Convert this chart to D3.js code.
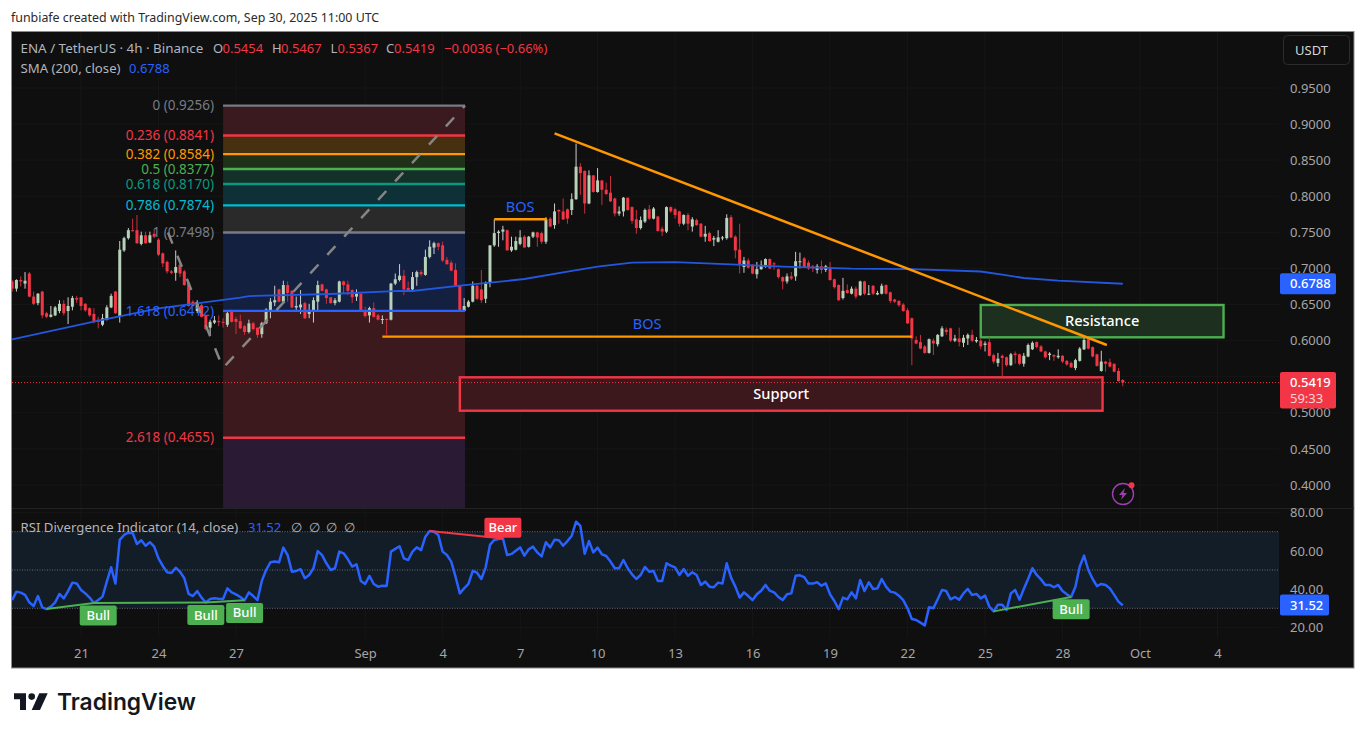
<!DOCTYPE html>
<html>
<head>
<meta charset="utf-8">
<script src="https://cdn.jsdelivr.net/npm/d3@7"></script>
<style>
    body { margin: 0; background: #fff; }
    text { font-family: "Noto Sans", sans-serif; }
    .domain { display: none; }
</style>
</head>
<body>
<script>
var w = 1366, h = 737;

// 4h candles, bar 0 is Aug 21 00:00
var firstBar = -16;
var candleOpen = [
    .682,.672,.684,.679,.693,.661,.652,.668,.638,.633,.635,.641,.651,.641,.647,.659,.660,.651,.645,.637,
    .629,.622,.629,.646,.668,.633,.725,.742,.753,.753,.734,.746,.736,.748,.740,.721,.709,.696,.694,.705,
    .696,.680,.654,.641,.649,.635,.618,.625,.627,.626,.622,
    .640,.630,.627,.620,.612,.624,.618,.609,.624,.641,.653,.671,.654,.677,.669,.646,.646,.652,.637,.641,
    .654,.678,.671,.660,.652,.654,.682,.678,.670,.661,.665,.641,.635,.645,.635,.629,.630,.629,.679,.684,
    .690,.673,.671,.688,.695,.691,.716,.729,.735,.732,.712,.708,.698,.676,.641,.647,
    .654,.676,.671,.658,.680,.732,.749,.751,.753,
    .725,.726,.734,.744,.730,.744,.750,.749,.737,.769,.760,.781,.779,.782,.781,.796,.841,.835,.790,.829,
    .806,.822,.809,.805,.797,.776,.779,.798,.785,.768,.756,.765,.782,.769,.772,.755,.751,.785,.782,.779,
    .762,.774,.758,.767,.762,.744,.749,.740,.737,.742,.742,.771,.744,.726,.702,.711,.705,.692,.699,.702,
    .713,.707,.699,.688,.682,.689,.689,.709,.714,.708,.703,.698,.703,.698,.702,.685,.677,.659,.670,.665,
    .672,.663,.682,.664,.676,.664,.665,.677,.667,.657,.655,.650,.642,
    .631,.601,.598,.592,.583,.600,.595,
    .606,.615,.617,.600,.603,.597,.603,.608,.599,.600,.594,.598,.580,.569,.579,.577,.566,.582,.581,.568,
    .578,.588,.598,.592,.585,.580,.580,.577,.579,.572,.569,.562,.572,.588,.602,.591,.581,.558,.571,.570,
    .568,.558,.5454
];
var candleHigh = [
    .684,.685,.689,.695,.695,.668,.666,.669,.640,.648,.648,.656,.656,.660,.662,.662,.660,.652,.646,.645,
    .633,.637,.649,.665,.669,.738,.744,.756,.769,.774,.751,.751,.751,.754,.742,.722,.711,.698,.725,.707,
    .698,.682,.656,.656,.652,.636,.629,.634,.635,.631,.640,
    .643,.633,.636,.622,.629,.626,.618,.626,.645,.659,.676,.672,.683,.682,.670,.661,.670,.654,.651,.660,
    .683,.679,.672,.660,.659,.683,.683,.683,.671,.671,.665,.647,.647,.653,.637,.635,.631,.680,.693,.706,
    .698,.682,.695,.697,.698,.726,.739,.737,.736,.737,.716,.711,.707,.677,.659,.656,
    .682,.677,.698,.682,.732,.768,.753,.759,.754,
    .744,.744,.753,.746,.745,.751,.751,.751,.771,.771,.790,.782,.797,.783,.804,.873,.846,.836,.836,.829,
    .839,.822,.819,.828,.798,.786,.799,.798,.786,.781,.772,.783,.788,.785,.773,.758,.786,.786,.784,.780,
    .775,.777,.771,.769,.763,.759,.751,.745,.753,.745,.775,.774,.746,.762,.716,.714,.706,.709,.711,.714,
    .714,.709,.700,.689,.693,.695,.723,.722,.716,.711,.705,.706,.711,.705,.709,.686,.678,.687,.678,.675,
    .675,.683,.683,.677,.677,.669,.679,.678,.668,.658,.656,.652,.645,
    .632,.606,.608,.594,.603,.603,.609,
    .620,.618,.618,.608,.618,.608,.610,.615,.605,.603,.599,.605,.582,.583,.581,.578,.583,.585,.582,.583,
    .596,.599,.599,.594,.586,.584,.581,.588,.580,.573,.571,.575,.591,.604,.603,.592,.582,.586,.572,.575,
    .568,.562,.5467
];
var candleLow = [
    .668,.668,.675,.672,.660,.649,.649,.631,.631,.632,.634,.638,.635,.623,.642,.652,.642,.640,.633,.624,
    .617,.620,.628,.645,.637,.625,.723,.740,.751,.734,.732,.734,.735,.742,.717,.702,.693,.692,.683,.688,
    .676,.647,.647,.638,.632,.614,.608,.623,.620,.618,.619,
    .625,.609,.616,.608,.610,.614,.604,.604,.623,.631,.648,.653,.653,.654,.645,.641,.637,.630,.631,.625,
    .642,.668,.651,.651,.649,.653,.665,.663,.652,.655,.640,.632,.625,.632,.628,.623,.608,.628,.677,.682,
    .663,.669,.670,.676,.689,.690,.714,.720,.725,.709,.705,.696,.675,.640,.640,.646,
    .653,.656,.652,.652,.674,.730,.730,.739,.725,
    .723,.725,.732,.729,.729,.742,.730,.734,.734,.757,.755,.762,.767,.762,.774,.795,.802,.776,.789,.805,
    .805,.788,.802,.792,.772,.773,.772,.780,.762,.748,.754,.763,.767,.768,.751,.745,.749,.777,.769,.758,
    .760,.753,.751,.759,.743,.737,.737,.731,.736,.739,.740,.742,.714,.693,.694,.700,.692,.686,.698,.701,
    .699,.698,.686,.671,.679,.684,.683,.700,.701,.698,.695,.693,.693,.695,.683,.672,.655,.657,.665,.664,
    .658,.662,.663,.663,.663,.663,.664,.664,.652,.652,.647,.640,.623,
    .566,.595,.588,.582,.582,.580,.592,
    .605,.608,.598,.598,.592,.591,.594,.598,.597,.588,.585,.578,.568,.564,.549,.564,.565,.568,.566,.564,
    .577,.587,.589,.584,.575,.573,.572,.575,.569,.565,.562,.559,.571,.587,.588,.577,.564,.557,.557,.563,
    .556,.543,.5367
];
var candleClose = [
    .672,.684,.682,.683,.661,.651,.665,.635,.633,.636,.646,.651,.638,.648,.659,.657,.648,.642,.635,.626,
    .626,.631,.646,.662,.638,.726,.742,.753,.752,.735,.746,.735,.746,.744,.719,.707,.696,.694,.702,.693,
    .677,.648,.648,.652,.633,.616,.626,.628,.626,.625,.638,
    .626,.626,.617,.612,.624,.616,.608,.624,.643,.654,.656,.654,.677,.666,.646,.648,.650,.631,.642,.656,
    .677,.669,.659,.652,.656,.682,.677,.669,.660,.665,.640,.634,.645,.633,.629,.630,.629,.679,.685,.690,
    .671,.670,.688,.695,.692,.716,.730,.735,.730,.711,.706,.697,.676,.641,.648,.654,
    .676,.658,.656,.680,.732,.749,.751,.754,.725,
    .730,.738,.743,.729,.744,.750,.743,.737,.768,.758,.779,.779,.768,.769,.796,.841,.832,.790,.829,.806,
    .822,.809,.803,.793,.776,.779,.798,.781,.766,.756,.767,.781,.769,.783,.752,.751,.785,.779,.774,.762,
    .774,.762,.768,.760,.744,.748,.738,.742,.743,.743,.770,.743,.725,.705,.711,.701,.693,.699,.705,.713,
    .700,.706,.688,.682,.689,.686,.710,.710,.702,.700,.700,.703,.698,.703,.684,.674,.656,.669,.666,.672,
    .661,.682,.665,.665,.665,.666,.676,.665,.655,.654,.649,.641,.624,
    .603,.596,.589,.583,.602,.596,.608,
    .617,.612,.600,.603,.598,.604,.608,.600,.601,.592,.596,.579,.571,.575,.576,.566,.581,.580,.568,.579,
    .594,.597,.591,.585,.577,.582,.578,.579,.571,.567,.563,.573,.589,.601,.589,.578,.565,.571,.568,.564,
    .557,.544,.5419
];

var smaBars = [-16,3,18,37,39,58,74,77,88,95,103,113,120,128,138,151,163,179,193,209,214,219,227,242];
var smaValues = [.6018,.6262,.6448,.6595,.6618,.6646,.6688,.6688,.6761,.6803,.6854,.6955,.7024,.708,.7089,.7057,.7024,.6997,.6992,.6958,.6916,.6868,.683,.6788];

var rsiValues = [
    34.3,38.7,38.2,37.0,33.1,31.2,36.4,30.5,29.6,30.9,33.1,37.5,35.2,39.0,43.4,43.0,
    39.6,37.8,35.6,32.8,34.3,36.1,43.9,51.4,42.9,65.7,68.3,69.5,69.3,63.6,65.5,62.7,64.5,62.2,56.1,52.1,
    48.8,48.4,51.2,49.1,45.7,37.5,36.4,39.0,35.6,33.0,34.9,35.2,35.0,34.9,40.4,38.3,37.3,35.9,34.2,38.3,
    36.4,34.3,44.3,50.0,54.0,54.4,54.0,61.7,57.8,49.1,49.5,50.4,45.7,47.4,50.9,59.9,57.8,53.5,50.0,50.9,
    59.6,58.7,55.6,51.8,53.0,44.3,42.7,46.9,42.7,41.3,41.8,41.7,59.6,61.0,62.4,56.1,55.2,59.6,61.8,60.4,
    67.4,70.4,70.0,68.3,59.6,57.8,54.4,46.5,37.8,40.4,42.7,49.5,48.6,45.3,51.4,63.1,65.7,66.2,66.5,57.8,
    58.4,60.1,61.8,57.5,60.8,62.2,59.2,57.1,64.5,61.8,65.8,65.5,62.7,65.1,67.9,75.2,73.0,58.5,65.1,59.2,
    61.7,58.2,57.3,54.4,50.9,50.9,55.2,50.9,47.7,45.3,47.4,51.6,49.1,49.5,44.3,44.3,53.5,52.3,51.4,47.4,
    50.5,47.0,48.8,47.4,42.2,43.9,41.3,41.0,43.4,43.0,53.5,46.0,41.3,35.6,38.3,36.4,34.3,37.3,39.2,42.2,
    39.2,38.3,35.9,34.3,37.3,37.8,47.0,47.2,46.3,42.9,42.9,43.6,41.8,43.0,37.3,33.8,29.6,35.6,34.7,38.3,
    35.2,44.8,39.0,43.6,40.1,40.4,45.3,41.3,38.7,38.2,36.6,34.3,30.0,24.4,23.9,22.5,21.1,30.5,30.0,34.7,
    39.6,39.0,34.7,35.9,34.5,37.8,40.1,37.0,37.5,35.2,36.6,30.9,28.4,31.9,31.9,29.1,37.8,39.6,34.5,40.1,
    45.3,50.9,47.4,45.1,42.2,42.2,41.0,42.2,39.0,37.3,35.9,41.3,51.8,57.5,50.0,45.3,41.6,42.7,42.2,40.4,
    37.0,33.5,31.52
];

var priceTicks = [.95,.9,.85,.8,.75,.7,.65,.6,.55,.5,.45,.4];
var rsiTicks = [80,60,40,20];
var rsiGuides = [70,50,30];
var timeBars = [0,18,36,66,84,102,120,138,156,174,192,210,228,246,264];
var timeLabels = ["21","24","27","Sep","4","7","10","13","16","19","22","25","28","Oct","4"];

var fibLevels = ["0","0.236","0.382","0.5","0.618","0.786","1","1.618","2.618"];
var fibPrices = [.9256,.8841,.8584,.8377,.8170,.7874,.7498,.6412,.4655];
var fibColors = ["#787b86","#f23645","#ff9800","#4caf50","#089981","#00bcd4","#787b86","#2962ff","#f23645"];
var fibFills = ["#3a1a1e","#46300f","#1f3118","#133029","#0e3138","#2a2a2b","#13203f","#3c191c","#2a1a33"];
var fibBars = [33,89.2];
var fibPathBars = [20.2,33,89.2];
var fibPathPrices = [.7498,.5621,.9256];

var trendBars = [110,238.3];
var trendPrices = [.8872,.5939];
var bosBars = [[96,108.2],[70,193]];
var bosPrices = [.7681,.6055];
var bosLabelBars = [102,131.5];
var bosLabelPrices = [.7846,.6235];

var supportBars = [88,237.3];
var supportPrices = [.5492,.5029];
var resistBars = [209,265.4];
var resistPrices = [.6494,.6046];

// rsi divergence lines and their badges
var divBars = [[-8,3],[3,29],[29,38],[81,98],[212,230]];
var divRsi = [[29.6,32.8],[32.8,33.0],[33.0,34.2],[70.4,66.5],[28.4,35.9]];
var divColors = ["#4caf50","#4caf50","#4caf50","#f23645","#4caf50"];
var badgeBars = [4,29,38,98,230];
var badgeRsi = [31.4,31.7,32.8,66.9,34.7];
var badgeText = ["Bull","Bull","Bull","Bear","Bull"];

var lastPrice = .5419, lastSma = .6788, lastRsi = 31.52;

var plotL = 12, plotR = 1279, paneTop = 32, paneBot = 508, frameR = 1354, frameB = 668;

var x = d3.scaleLinear().domain([0,264]).range([81,1217.5]);
var y = d3.scaleLinear().domain([.4,.95]).range([485,88]);
var yRsi = d3.scaleLinear().domain([30,70]).range([608.3,531.7]);

var svg = d3.select("body").append("svg")
    .attr("width", w)
    .attr("height", h)
    .style("display", "block");

svg.append("text").attr("x", 11).attr("y", 21.5)
    .attr("fill", "#2a2a2a").attr("font-size", 12.4)
    .text("funbiafe created with TradingView.com, Sep 30, 2025 11:00 UTC");

// frame
svg.append("rect").attr("x", 11.5).attr("y", 31.5)
    .attr("width", frameR - 11.5).attr("height", frameB - 31.5)
    .attr("fill", "#0f0f0f").attr("stroke", "#8c8c8c");

svg.append("defs").append("clipPath").attr("id", "plot").append("rect")
    .attr("x", plotL).attr("y", paneTop).attr("width", plotR - plotL).attr("height", paneBot - paneTop);
svg.select("defs").append("clipPath").attr("id", "rsiplot").append("rect")
    .attr("x", plotL).attr("y", paneBot + 2).attr("width", plotR - plotL).attr("height", 130);

// grid
var grid = svg.append("g").attr("stroke", "#161616");
grid.selectAll(".gy").data(priceTicks).enter().append("line")
    .attr("x1", plotL).attr("x2", plotR).attr("y1", function(d){return y(d);}).attr("y2", function(d){return y(d);});
grid.selectAll(".gr").data(rsiTicks).enter().append("line")
    .attr("x1", plotL).attr("x2", plotR).attr("y1", function(d){return yRsi(d);}).attr("y2", function(d){return yRsi(d);});
grid.selectAll(".gx").data(timeBars).enter().append("line")
    .attr("y1", paneTop).attr("y2", 638).attr("x1", function(d){return x(d);}).attr("x2", function(d){return x(d);});

svg.append("line").attr("x1", 12).attr("x2", frameR).attr("y1", paneBot + .5).attr("y2", paneBot + .5)
    .attr("stroke", "#222");

var main = svg.append("g").attr("clip-path", "url(#plot)");

// fib bands
var bandEdges = fibPrices.concat([y.invert(paneBot)]);
main.selectAll(".fibband").data(fibFills).enter().append("rect")
    .attr("x", x(fibBars[0])).attr("width", x(fibBars[1]) - x(fibBars[0]))
    .attr("y", function(d,i){return y(bandEdges[i]);})
    .attr("height", function(d,i){return y(bandEdges[i+1]) - y(bandEdges[i]);})
    .attr("fill", function(d){return d;});

// zones under the candles
main.append("rect")
    .attr("x", x(supportBars[0])).attr("width", x(supportBars[1]) - x(supportBars[0]))
    .attr("y", y(supportPrices[0])).attr("height", y(supportPrices[1]) - y(supportPrices[0]))
    .attr("fill", "#3c171c").attr("stroke", "#f23645").attr("stroke-width", 2.4);
main.append("rect")
    .attr("x", x(resistBars[0])).attr("width", x(resistBars[1]) - x(resistBars[0]))
    .attr("y", y(resistPrices[0])).attr("height", y(resistPrices[1]) - y(resistPrices[0]))
    .attr("fill", "#1d2f1e").attr("stroke", "#4caf50").attr("stroke-width", 2.4);

// candles
var candles = candleOpen.map(function(o,i){
    return {bar: firstBar + i, o: o, h: candleHigh[i], l: candleLow[i], c: candleClose[i]};
});
function candleColor(d){ return d.c >= d.o ? "#b7d2b8" : "#f23645"; }
function wickColor(d){ return d.c >= d.o ? "#cfcfcf" : "#c72f3c"; }
var bodyW = 3;
var cg = main.append("g");
cg.selectAll(".wick").data(candles).enter().append("line")
    .attr("x1", function(d){return x(d.bar);})
    .attr("x2", function(d){return x(d.bar);})
    .attr("y1", function(d){return y(d.h);})
    .attr("y2", function(d){return y(d.l);})
    .attr("stroke", wickColor);
cg.selectAll(".body").data(candles).enter().append("rect")
    .attr("x", function(d){return x(d.bar) - bodyW/2;})
    .attr("width", bodyW)
    .attr("y", function(d){return y(Math.max(d.o,d.c));})
    .attr("height", function(d){return Math.max(1, Math.abs(y(d.o) - y(d.c)));})
    .attr("fill", candleColor);

// sma
var smaLine = d3.line().x(function(d){return x(d[0]);}).y(function(d){return y(d[1]);});
main.append("path").datum(d3.zip(smaBars, smaValues))
    .attr("d", smaLine).attr("fill", "none").attr("stroke", "#2457e0").attr("stroke-width", 1.8);

// last price dotted line
main.append("line").attr("x1", plotL).attr("x2", plotR)
    .attr("y1", y(lastPrice)).attr("y2", y(lastPrice))
    .attr("stroke", "#f23645").attr("stroke-dasharray", "1 2");

// fib lines
main.selectAll(".fibline").data(fibPrices).enter().append("line")
    .attr("x1", x(fibBars[0])).attr("x2", x(fibBars[1]))
    .attr("y1", function(d){return y(d);}).attr("y2", function(d){return y(d);})
    .attr("stroke", function(d,i){return fibColors[i];}).attr("stroke-width", 2.4);
main.selectAll(".fiblabel").data(fibPrices).enter().append("text")
    .attr("x", x(fibBars[0]) - 9)
    .attr("y", function(d){return y(d);})
    .attr("dy", "0.35em")
    .attr("text-anchor", "end")
    .attr("font-size", 13.5)
    .attr("fill", function(d,i){return fibColors[i];})
    .text(function(d,i){return fibLevels[i] + " (" + d.toFixed(4) + ")";});
main.append("path").datum(d3.zip(fibPathBars, fibPathPrices))
    .attr("d", smaLine).attr("fill", "none")
    .attr("stroke", "#858585").attr("stroke-width", 2.5).attr("stroke-dasharray", "12 13");

// trend line and bos
main.append("path").datum(d3.zip(trendBars, trendPrices))
    .attr("d", smaLine).attr("fill", "none").attr("stroke", "#ff9800").attr("stroke-width", 2.5);
main.selectAll(".bos").data(bosPrices).enter().append("line")
    .attr("x1", function(d,i){return x(bosBars[i][0]);})
    .attr("x2", function(d,i){return x(bosBars[i][1]);})
    .attr("y1", function(d){return y(d);}).attr("y2", function(d){return y(d);})
    .attr("stroke", "#ff9800").attr("stroke-width", 2.4);
main.selectAll(".boslabel").data(bosLabelPrices).enter().append("text")
    .attr("x", function(d,i){return x(bosLabelBars[i]);})
    .attr("y", function(d){return y(d);})
    .attr("dy", "0.35em").attr("text-anchor", "middle")
    .attr("font-size", 14.5).attr("fill", "#2962ff")
    .text("BOS");

main.append("text").attr("x", (x(supportBars[0]) + x(supportBars[1]))/2)
    .attr("y", y((supportPrices[0] + supportPrices[1])/2)).attr("dy", "0.35em")
    .attr("text-anchor", "middle").attr("font-size", 14.6).attr("font-weight", 500).attr("fill", "#fff")
    .text("Support");
main.append("text").attr("x", (x(resistBars[0]) + x(resistBars[1]))/2)
    .attr("y", y((resistPrices[0] + resistPrices[1])/2)).attr("dy", "0.35em")
    .attr("text-anchor", "middle").attr("font-size", 14.6).attr("font-weight", 500).attr("fill", "#fff")
    .text("Resistance");

// rsi pane
var rsiG = svg.append("g").attr("clip-path", "url(#rsiplot)");
rsiG.append("rect").attr("x", plotL).attr("width", plotR - plotL)
    .attr("y", yRsi(70)).attr("height", yRsi(30) - yRsi(70)).attr("fill", "#121d27");
rsiG.selectAll(".guide").data(rsiGuides).enter().append("line")
    .attr("x1", plotL).attr("x2", plotR)
    .attr("y1", function(d){return yRsi(d);}).attr("y2", function(d){return yRsi(d);})
    .attr("stroke", "#666a72").attr("stroke-dasharray", "1 1.5");
var rsiLine = d3.line().x(function(d,i){return x(firstBar + i);}).y(function(d){return yRsi(d);});
rsiG.append("path").datum(rsiValues)
    .attr("d", rsiLine).attr("fill", "none")
    .attr("stroke", "#2962ff").attr("stroke-width", 2.5).attr("stroke-linejoin", "round");
rsiG.selectAll(".div").data(divBars).enter().append("line")
    .attr("x1", function(d){return x(d[0]);})
    .attr("x2", function(d){return x(d[1]);})
    .attr("y1", function(d,i){return yRsi(divRsi[i][0]);})
    .attr("y2", function(d,i){return yRsi(divRsi[i][1]);})
    .attr("stroke", function(d,i){return divColors[i];}).attr("stroke-width", 2);

var badgeW = 37, badgeH = 20;
function badgeTop(i){
    return badgeText[i] == "Bear" ? yRsi(badgeRsi[i]) - badgeH : yRsi(badgeRsi[i]);
}
svg.selectAll(".badge").data(badgeBars).enter().append("rect")
    .attr("x", function(d){return x(d) - badgeW/2;})
    .attr("y", function(d,i){return badgeTop(i);})
    .attr("width", badgeW).attr("height", badgeH).attr("rx", 2)
    .attr("fill", function(d,i){return badgeText[i] == "Bear" ? "#f23645" : "#4caf50";});
svg.selectAll(".badgetext").data(badgeBars).enter().append("text")
    .attr("x", function(d){return x(d);})
    .attr("y", function(d,i){return badgeTop(i) + badgeH/2;})
    .attr("dy", "0.35em").attr("text-anchor", "middle")
    .attr("font-size", 13).attr("font-weight", 500).attr("fill", "#fff")
    .text(function(d,i){return badgeText[i];});

// axes
function styleAxis(g, col){
    g.selectAll("text").attr("fill", col).attr("font-size", 13)
        .attr("font-family", '"Noto Sans", sans-serif');
}
svg.append("g").attr("transform", "translate(" + plotR + ",0)")
    .call(d3.axisRight(y).tickValues(priceTicks).tickFormat(d3.format(".4f")).tickSize(0).tickPadding(11))
    .call(styleAxis, "#a6a6a6");
svg.append("g").attr("transform", "translate(" + plotR + ",0)")
    .call(d3.axisRight(yRsi).tickValues(rsiTicks).tickFormat(d3.format(".2f")).tickSize(0).tickPadding(11))
    .call(styleAxis, "#a6a6a6");
svg.append("g").attr("transform", "translate(0,641)")
    .call(d3.axisBottom(x).tickValues(timeBars).tickFormat(function(d,i){return timeLabels[i];}).tickSize(0).tickPadding(8))
    .call(styleAxis, "#a6a6a6");

// price tags
function priceTag(top, bottom, width, color){
    svg.append("rect").attr("x", plotR + 1).attr("y", top).attr("width", width).attr("height", bottom - top)
        .attr("rx", 2).attr("fill", color);
}
priceTag(y(lastSma) - 10.5, y(lastSma) + 10.5, 56, "#2962ff");
svg.append("text").attr("x", 1290).attr("y", y(lastSma)).attr("dy", "0.35em")
    .attr("font-size", 13).attr("font-weight", 500).attr("fill", "#fff").text(lastSma.toFixed(4));
priceTag(y(lastPrice) - 10.5, y(lastPrice) + 26, 56, "#f23645");
svg.append("text").attr("x", 1290).attr("y", y(lastPrice)).attr("dy", "0.35em")
    .attr("font-size", 13).attr("font-weight", 500).attr("fill", "#fff").text(lastPrice.toFixed(4));
svg.append("text").attr("x", 1290).attr("y", y(lastPrice) + 16).attr("dy", "0.35em")
    .attr("font-size", 13).attr("fill", "#fbd5d8").text("59:33");
priceTag(yRsi(lastRsi) - 11, yRsi(lastRsi) + 10, 49, "#2962ff");
svg.append("text").attr("x", 1290).attr("y", yRsi(lastRsi)).attr("dy", "0.35em")
    .attr("font-size", 13).attr("font-weight", 500).attr("fill", "#fff").text(lastRsi.toFixed(2));

// usdt button
svg.append("rect").attr("x", 1283.5).attr("y", 35.5).attr("width", 66).attr("height", 29).attr("rx", 4)
    .attr("fill", "none").attr("stroke", "#2c2c2c");
svg.append("text").attr("x", 1295).attr("y", 50).attr("dy", "0.35em")
    .attr("font-size", 13).attr("fill", "#d6d6d6").text("USDT");

// legends
function legend(tx, ty, str, col, size){
    svg.append("text").attr("x", tx).attr("y", ty).attr("dy", "0.35em")
        .attr("font-size", size || 13).attr("fill", col).text(str);
}
var gray = "#b2b5be", red = "#f23645", blue = "#2962ff";
legend(20.5, 48, "ENA / TetherUS · 4h · Binance", gray, 13.4);
legend(213, 48, "O", gray); legend(222.5, 48, "0.5454", red);
legend(272, 48, "H", gray); legend(281, 48, "0.5467", red);
legend(330.5, 48, "L", gray); legend(337.5, 48, "0.5367", red);
legend(386, 48, "C", gray); legend(394, 48, "0.5419", red);
legend(444, 48, "−0.0036 (−0.66%)", red);
legend(20.5, 68, "SMA (200, close)", gray, 13.2);
legend(129, 68, "0.6788", blue);
legend(20.5, 527, "RSI Divergence Indicator (14, close)", gray, 13.2);
legend(248, 527, "31.52", blue);
legend(291, 527, "∅", gray); legend(309, 527, "∅", gray); legend(326, 527, "∅", gray); legend(344, 527, "∅", gray);

// spark icon
var icon = svg.append("g").attr("transform", "translate(1123,494)");
icon.append("circle").attr("r", 10.5).attr("fill", "none").attr("stroke", "#9c3fb0").attr("stroke-width", 1.4);
icon.append("path").attr("d", "M2,-6 L-4,1 L-0.5,1 L-2,6 L4,-1 L0.5,-1 Z").attr("fill", "#9c3fb0");
icon.append("circle").attr("cx", 8.5).attr("cy", -8.7).attr("r", 3).attr("fill", "#f23645");

// logo
var logo = svg.append("g").attr("fill", "#131722");
logo.append("path").attr("d", "M14,693.3 H26 V710 H20 V699.3 H14 Z");
logo.append("circle").attr("cx", 31.7).attr("cy", 696.6).attr("r", 3.3);
logo.append("path").attr("d", "M39.3,693.3 H47.7 L40,710 H31.7 Z");
svg.append("text").attr("x", 57).attr("y", 710.3)
    .attr("font-size", 22.8).attr("font-weight", 600).attr("fill", "#131722")
    .style("font-family", "Inter, sans-serif").text("TradingView");
</script>
</body>
</html>
